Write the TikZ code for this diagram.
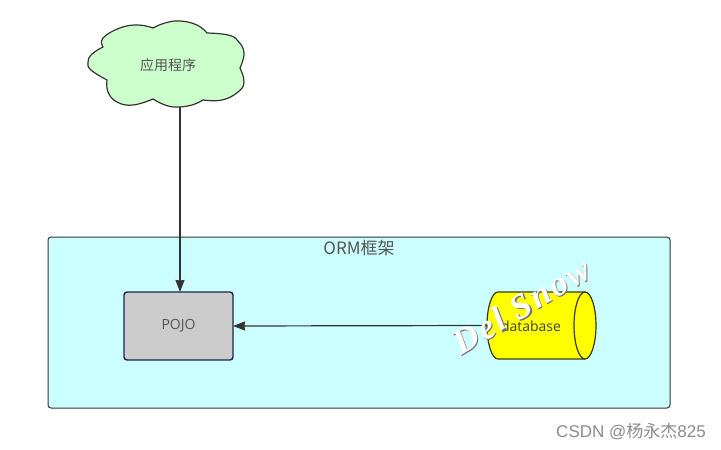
\documentclass[tikz,border=0pt]{standalone}
\usepackage{fontspec}
\setmainfont{Open Sans}
\newfontfamily\cjk{Noto Sans CJK SC}
\newfontfamily\wm[LetterSpace=7]{Liberation Serif}
\newfontfamily\csdn{Liberation Sans}
\usetikzlibrary{arrows.meta}
\definecolor{txt}{HTML}{555555}
\definecolor{edge}{HTML}{333333}
\definecolor{cloudfill}{HTML}{CCFFCC}
\definecolor{framefill}{HTML}{CCFFFF}
\definecolor{navy}{HTML}{1A2450}
\definecolor{dbedge}{HTML}{3A3A10}
\definecolor{dbfill}{HTML}{FFFF00}
\tikzset{
  every node/.style={inner sep=0pt,outer sep=0pt},
  link/.style={draw=edge,line width=1.2pt,-{Stealth[length=12pt,width=9pt,inset=0.5pt]}},
  lbl/.style={text=txt},
  small/.style={font=\fontsize{14}{16}\selectfont},
  wmark/.style={rotate=31,font=\wm\itshape\bfseries\fontsize{35}{40}\selectfont},
  lobe/.style={smooth,tension=0.75},
}
\begin{document}
\begin{tikzpicture}[x=1pt,y=-1pt]
\useasboundingbox (0,0) rectangle (721,450);
\fill[white] (0,0) rectangle (721,450);
% cloud
\draw[fill=cloudfill,line width=1.2pt,draw=edge,line join=round]
  plot[lobe] coordinates {(103,47) (92,54) (88,62) (91,70) (107,80)}
  -- plot[lobe] coordinates {(107,80) (108,92) (117,102) (133,105) (153,99)}
  -- plot[lobe] coordinates {(153,99) (165,105) (177,107) (192,105) (203,100)}
  -- plot[lobe] coordinates {(203,100) (222,100) (238,92) (244,82) (240,68)}
  -- plot[lobe] coordinates {(240,68) (244,53) (238,41) (228,35) (207,33)}
  -- plot[lobe] coordinates {(207,33) (197,25) (180,21) (165,23) (153,28)}
  -- plot[lobe] coordinates {(153,28) (138,25) (120,28) (103,38) (103,47)}
  -- cycle;
\coordinate (cloudbottom) at (180,107);
\node[lbl,font=\cjk\fontsize{14}{16}\selectfont] (app) at (168,65) {应用程序};
% frame
\node[draw=edge,fill=framefill,line width=1pt,rounded corners=3pt,minimum width=622pt,minimum height=171pt] (frame) at (359,322.5) {};
\node[lbl,font=\cjk\fontsize{17}{19}\selectfont] (framelabel) at (359,248) {ORM框架};
% pojo
\node[draw=navy,fill=black!20,line width=1.4pt,rounded corners=3pt,minimum width=109pt,minimum height=68pt] (pojo) at (178.5,326) {};
\node[lbl,small] (pojolabel) at (178.5,325.5) {POJO};
% database
\draw[dbedge,fill=dbfill,line width=1.2pt] (498,292) -- (585,292)
  .. controls (591,292) and (596,307) .. (596,325.5)
  .. controls (596,344) and (591,359) .. (585,359)
  -- (498,359)
  .. controls (492,359) and (487,344) .. (487,325.5)
  .. controls (487,307) and (492,292) .. (498,292) -- cycle;
\draw[dbedge,line width=1.2pt] (585,292)
  .. controls (579,292) and (574,307) .. (574,325.5)
  .. controls (574,344) and (579,359) .. (585,359);
\coordinate (db) at (487,325.5);
\node[lbl,small,text=black!75] (dblabel) at (531,326.5) {database};
% connectors
\draw[link] (cloudbottom) -- (pojo.north -| cloudbottom);
\draw[link] (db) -- (pojo.east);
% watermark
\node[wmark,text=black!55] (wmshadow) at (522.7,306.7) {Del Snow};
\node[wmark,text=white] (wmtext) at (521.5,305.5) {Del Snow};
% credit
\node[text=black!45,font=\cjk\fontsize{17}{19}\selectfont] (credit) at (631,432) {{\csdn CSDN @}杨永杰{\csdn 825}};
\end{tikzpicture}
\end{document}
